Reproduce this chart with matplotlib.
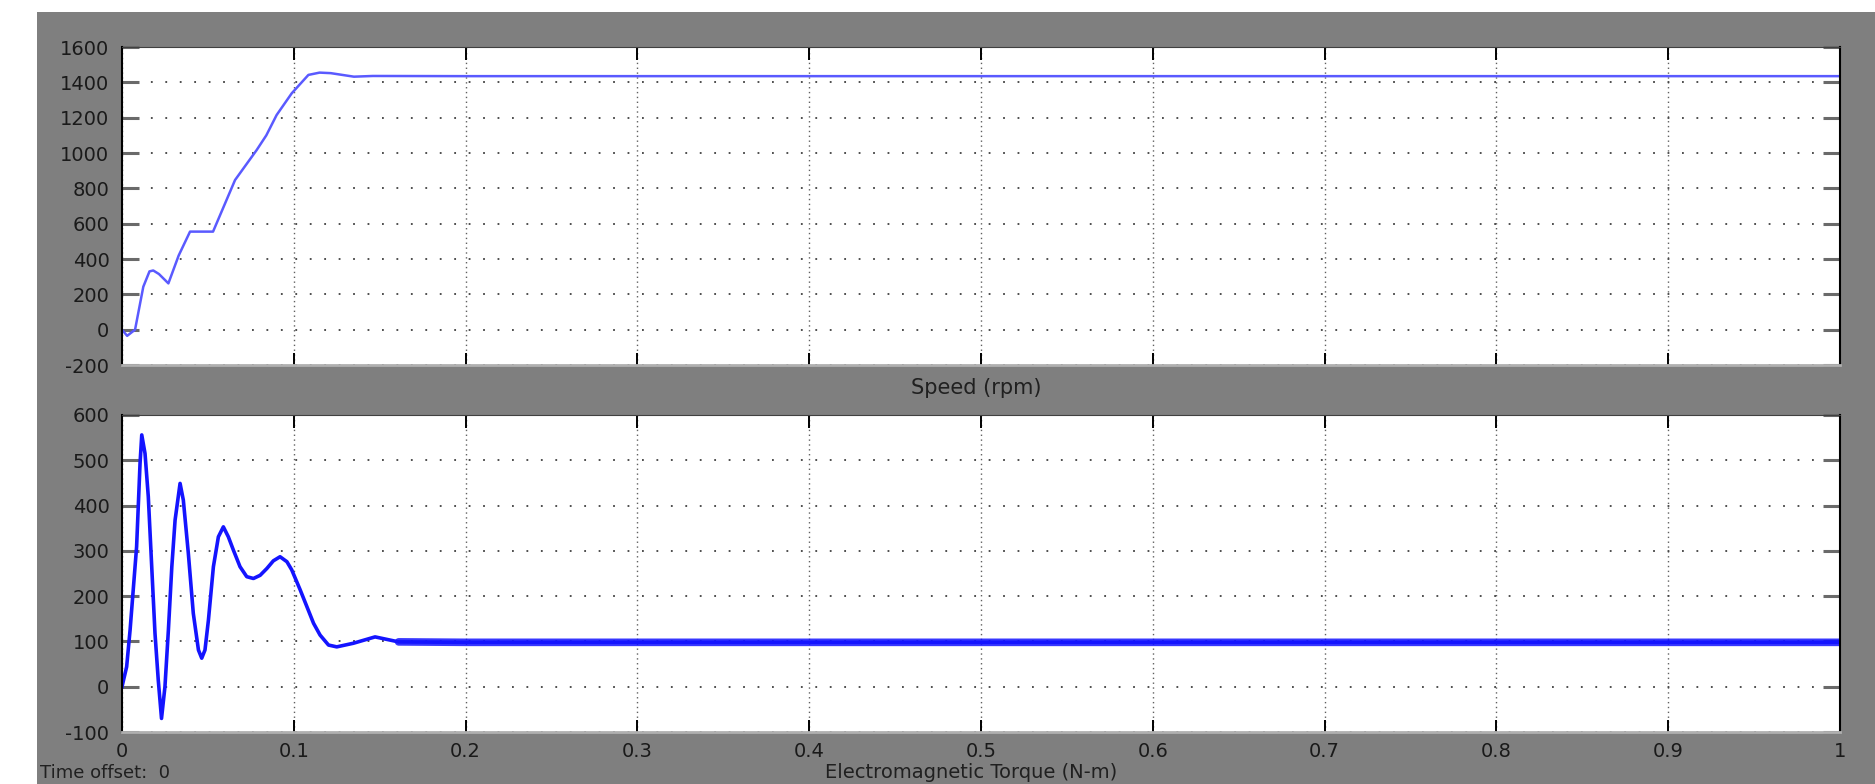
import matplotlib
matplotlib.use("Agg")
import matplotlib.pyplot as plt
from matplotlib.patches import Rectangle

# ---------------------------------------
# data
# ---------------------------------------
t_speed = [0, 0.003, 0.0076, 0.0124, 0.0160, 0.0182, 0.0215, 0.027, 0.0330,
           0.0396, 0.053, 0.0658, 0.0784, 0.084, 0.090, 0.0988, 0.1085,
           0.115, 0.1215, 0.135, 0.146, 0.2, 1.0]
speed = [0, -35, 0, 243, 330, 335, 315, 262, 420,
         555, 555, 847, 1017, 1100, 1215, 1338, 1442,
         1455, 1452, 1432, 1436, 1435, 1435]

t_torque = [0, 0.0027, 0.0047, 0.0085, 0.0105, 0.0115, 0.0134, 0.0153, 0.0173,
            0.0192, 0.0211, 0.0230, 0.025, 0.027, 0.029, 0.0309, 0.0338,
            0.0357, 0.0386, 0.0415, 0.0445, 0.0464, 0.0483, 0.0503, 0.0532,
            0.0561, 0.059, 0.0619, 0.0648, 0.0687, 0.0726, 0.0765, 0.0804,
            0.0843, 0.0881, 0.092, 0.096, 0.0988, 0.1037, 0.1076, 0.1115,
            0.1153, 0.1202, 0.125, 0.1347, 0.1473, 0.161, 0.2, 1.0]
torque = [0, 44, 125, 309, 493, 556, 515, 420, 265,
          118, 15, -70, 0, 125, 265, 368, 449,
          412, 295, 162, 81, 63, 81, 147, 265,
          331, 353, 331, 302, 265, 243, 239, 246,
          261, 278, 287, 276, 258, 214, 177, 140,
          114, 92, 88, 96, 110, 99, 98, 98]

x_ticks = [0, 0.1, 0.2, 0.3, 0.4, 0.5, 0.6, 0.7, 0.8, 0.9, 1.0]
x_labels = ["0", "0.1", "0.2", "0.3", "0.4", "0.5", "0.6", "0.7", "0.8", "0.9", "1"]
speed_ticks = [-200, 0, 200, 400, 600, 800, 1000, 1200, 1400, 1600]
torque_ticks = [-100, 0, 100, 200, 300, 400, 500, 600]

W, H = 1875, 784
GRAY = "#7f7f7f"
TXT = "#1a1a1a"


def px(x0, y0, x1, y1):
    # pixel box (top-left origin) -> figure fraction rect
    return [x0 / W, 1 - y1 / H, (x1 - x0) / W, (y1 - y0) / H]


def style_axes(ax, yticks, ylim):
    ax.set_xlim(0, 1)
    ax.set_ylim(*ylim)
    ax.set_xticks(x_ticks)
    ax.set_yticks(yticks)
    ax.set_yticklabels([str(v) for v in yticks])
    ax.tick_params(axis="y", direction="in", length=12, width=2.2, color="#6a6a6a",
                   left=True, right=True, labelsize=14, labelcolor=TXT, pad=9)
    ax.tick_params(axis="x", direction="in", length=9, width=1.4, color="black",
                   top=True, bottom=True, labelsize=14, labelcolor=TXT, pad=7)
    ax.xaxis.grid(True, linestyle=(0, (1, 2.5)), color="#606060", linewidth=1.0)
    ax.yaxis.grid(True, linestyle=(0, (1, 7)), color="#404040", linewidth=1.3)
    for side in ["left", "right"]:
        ax.spines[side].set_color("black")
        ax.spines[side].set_linewidth(1.5)
    ax.spines["top"].set_color("#404040")
    ax.spines["bottom"].set_color("#b0b0b0")
    ax.spines["bottom"].set_linewidth(2)


fig = plt.figure(figsize=(W / 100, H / 100), dpi=100, facecolor="white")

# gray scope background (behind the axes)
fig.patches.append(Rectangle((37 / W, 0), 1, 1 - 12 / H, transform=fig.transFigure,
                             facecolor=GRAY, edgecolor="none", zorder=-10))

# top: speed
ax1 = fig.add_axes(px(122, 47, 1840, 365))
ax1.plot(t_speed, speed, color="#5a5aff", linewidth=1.8)
style_axes(ax1, speed_ticks, (-200, 1600))
ax1.set_xticklabels([])

# bottom: torque
ax2 = fig.add_axes(px(122, 415, 1840, 732))
ax2.plot(t_torque, torque, color="#1414ff", linewidth=2.6)
# ripple band in steady state
ax2.plot(t_torque[-3:], torque[-3:], color="#1414ff", linewidth=5.5, alpha=0.85,
         solid_capstyle="round")
style_axes(ax2, torque_ticks, (-100, 600))
ax2.set_xticklabels(x_labels)

fig.text(976 / W, 1 - 388 / H, "Speed (rpm)", ha="center", va="center",
         fontsize=15, color="#202020")
fig.text(971 / W, 1 - 782 / H, "Electromagnetic Torque (N-m)", ha="center",
         va="bottom", fontsize=14, color="#202020")
fig.text(40 / W, 1 - 782 / H, "Time offset:  0", ha="left", va="bottom",
         fontsize=13, color="#202020")

fig.savefig("out.png", dpi=100, facecolor="white")
